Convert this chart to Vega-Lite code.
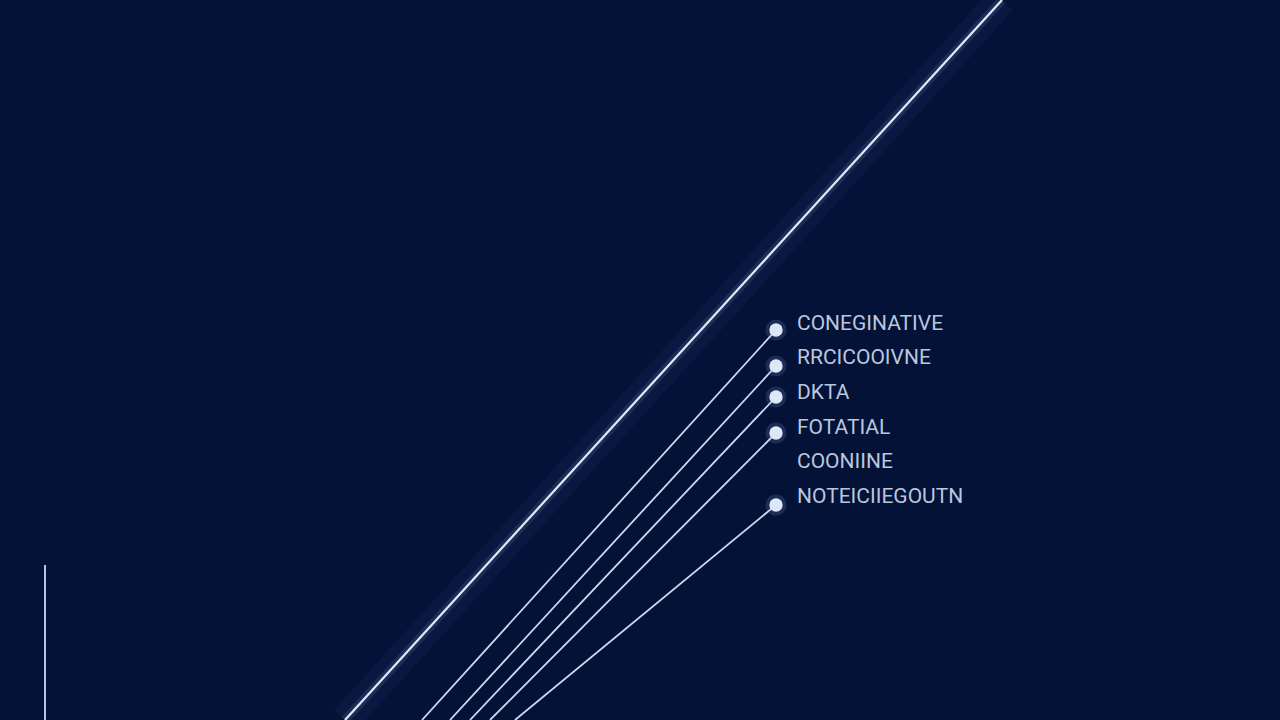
{
  "$schema": "https://vega.github.io/schema/vega-lite/v6.json",
  "width": 1280,
  "height": 720,
  "autosize": "none",
  "padding": 0,
  "background": "#041238",
  "config": {"view": {"stroke": null}},
  "datasets": {
    "main": [
      {"series": "main", "x": 345, "y": 0},
      {"series": "main", "x": 1002, "y": 720}
    ],
    "links": [
      {"series": "CONEGINATIVE", "x": 422, "y": 0},
      {"series": "CONEGINATIVE", "x": 776, "y": 390},
      {"series": "RRCICOOIVNE", "x": 450, "y": 0},
      {"series": "RRCICOOIVNE", "x": 776, "y": 354},
      {"series": "DKTA", "x": 470, "y": 0},
      {"series": "DKTA", "x": 776, "y": 323},
      {"series": "FOTATIAL", "x": 490, "y": 0},
      {"series": "FOTATIAL", "x": 776, "y": 287},
      {"series": "NOTEICIIEGOUTN", "x": 515, "y": 0},
      {"series": "NOTEICIIEGOUTN", "x": 776, "y": 215},
      {"series": "axis", "x": 45, "y": 0},
      {"series": "axis", "x": 45, "y": 155}
    ],
    "nodes": [
      {"label": "CONEGINATIVE", "x": 776, "y": 390},
      {"label": "RRCICOOIVNE", "x": 776, "y": 354},
      {"label": "DKTA", "x": 776, "y": 323},
      {"label": "FOTATIAL", "x": 776, "y": 287},
      {"label": "NOTEICIIEGOUTN", "x": 776, "y": 215}
    ],
    "labels": [
      {"label": "CONEGINATIVE", "x": 797, "y": 396},
      {"label": "RRCICOOIVNE", "x": 797, "y": 362},
      {"label": "DKTA", "x": 797, "y": 327},
      {"label": "FOTATIAL", "x": 797, "y": 292},
      {"label": "COONIINE", "x": 797, "y": 258},
      {"label": "NOTEICIIEGOUTN", "x": 797, "y": 223}
    ]
  },
  "layer": [
    {
      "data": {"name": "main"},
      "mark": {"type": "line", "color": "#6f8fd0", "strokeWidth": 30, "opacity": 0.05, "strokeCap": "butt"},
      "encoding": {
        "x": {"field": "x", "type": "quantitative", "scale": {"domain": [0, 1280], "nice": false, "zero": false}, "axis": null},
        "y": {"field": "y", "type": "quantitative", "scale": {"domain": [0, 720], "nice": false, "zero": false}, "axis": null},
        "detail": {"field": "series"}
      }
    },
    {
      "data": {"name": "main"},
      "mark": {"type": "line", "color": "#8fa8e0", "strokeWidth": 9, "opacity": 0.14, "strokeCap": "butt"},
      "encoding": {
        "x": {"field": "x", "type": "quantitative"},
        "y": {"field": "y", "type": "quantitative"},
        "detail": {"field": "series"}
      }
    },
    {
      "data": {"name": "main"},
      "mark": {"type": "line", "color": "#e2eaf8", "strokeWidth": 2.2, "strokeCap": "butt"},
      "encoding": {
        "x": {"field": "x", "type": "quantitative"},
        "y": {"field": "y", "type": "quantitative"},
        "detail": {"field": "series"}
      }
    },
    {
      "data": {"name": "links"},
      "mark": {"type": "line", "color": "#cdd9f0", "strokeWidth": 1.8, "strokeCap": "butt"},
      "encoding": {
        "x": {"field": "x", "type": "quantitative"},
        "y": {"field": "y", "type": "quantitative"},
        "detail": {"field": "series"}
      }
    },
    {
      "data": {"name": "nodes"},
      "mark": {"type": "circle", "color": "#9fb6e6", "size": 440, "opacity": 0.16},
      "encoding": {
        "x": {"field": "x", "type": "quantitative"},
        "y": {"field": "y", "type": "quantitative"}
      }
    },
    {
      "data": {"name": "nodes"},
      "mark": {"type": "circle", "color": "#dde7f5", "size": 180, "opacity": 1},
      "encoding": {
        "x": {"field": "x", "type": "quantitative"},
        "y": {"field": "y", "type": "quantitative"}
      }
    },
    {
      "data": {"name": "labels"},
      "mark": {"type": "text", "align": "left", "baseline": "middle", "color": "#b9c7de", "font": "Roboto", "fontSize": 21},
      "encoding": {
        "x": {"field": "x", "type": "quantitative"},
        "y": {"field": "y", "type": "quantitative"},
        "text": {"field": "label"}
      }
    }
  ]
}
